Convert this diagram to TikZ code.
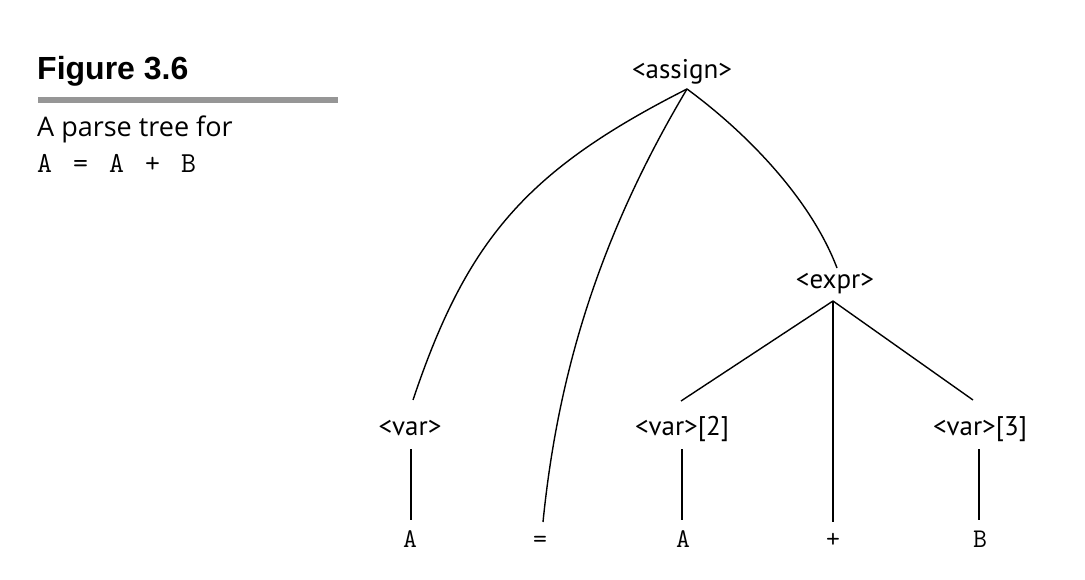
\documentclass[tikz,border=0pt]{standalone}
\usepackage{fontspec}
\setmainfont{PT Sans}
\newfontfamily\figfont{Liberation Sans}
\newfontfamily\capfont{Open Sans}
\newcommand\cchar[1]{\makebox[18pt][l]{#1}}
\definecolor{rulegray}{RGB}{150,150,150}
\begin{document}
\begin{tikzpicture}[x=1pt,y=-1pt,
  lbl/.style={inner sep=0pt,anchor=base,font=\fontsize{27}{30}\selectfont},
  leaf/.style={inner sep=0pt,anchor=base,font=\ttfamily\fontsize{27}{28}\selectfont},
  edge/.style={draw=black,line width=1.4pt}]
\useasboundingbox (0,0) rectangle (1085,580);
% caption
\node[inner sep=0pt,anchor=base west,font=\figfont\bfseries\fontsize{32}{36}\selectfont] (fig) at (37,80) {Figure 3.6};
\fill[rulegray] (38,97) rectangle (338,103);
\node[inner sep=0pt,anchor=base west,font=\capfont\fontsize{27}{30}\selectfont] (cap1) at (37,137) {A parse tree for};
\node[inner sep=0pt,anchor=base west,font=\ttfamily\fontsize{29}{32}\selectfont] (cap2) at (37,173) {\cchar{A}\cchar{}\cchar{=}\cchar{}\cchar{A}\cchar{}\cchar{+}\cchar{}B};
% tree labels
\node[lbl] (assign) at (682,79) {<assign>};
\node[lbl] (expr) at (835,289) {<expr>};
\node[lbl] (var1) at (410,435) {<var>};
\node[lbl] (var2) at (682,435) {<var>[2]};
\node[lbl] (var3) at (980,435) {<var>[3]};
\node[leaf] (A1) at (410,547) {A};
\node[leaf] (eq) at (540,547) {=};
\node[leaf] (A2) at (683,547) {A};
\node[leaf] (plus) at (833,547) {+};
\node[leaf] (B) at (980,547) {B};
% connector end points
\coordinate (assignS) at (687,89);
\coordinate (exprN) at (837,268);
\coordinate (exprS) at (833,301);
\coordinate (var1N) at (413,400);
\coordinate (var2N) at (681,401);
\coordinate (var3N) at (973,400);
\coordinate (var1S) at (411,449);
\coordinate (var2S) at (682,449);
\coordinate (var3S) at (979,449);
\coordinate (A1N) at (411,520);
\coordinate (eqN) at (543,522);
\coordinate (A2N) at (682,520);
\coordinate (plusN) at (833,522);
\coordinate (BN) at (979,520);
% connectors
\draw[edge] (assignS) .. controls (527,170) and (467,239) .. (var1N);
\draw[edge] (assignS) .. controls (600,235) and (558,372) .. (eqN);
\draw[edge] (assignS) .. controls (751,136) and (812,202) .. (exprN);
\draw[edge] (exprS) -- (var2N);
\draw[edge] (exprS) -- (plusN);
\draw[edge] (exprS) -- (var3N);
\draw[edge] (var1S) -- (A1N);
\draw[edge] (var2S) -- (A2N);
\draw[edge] (var3S) -- (BN);
\end{tikzpicture}
\end{document}
